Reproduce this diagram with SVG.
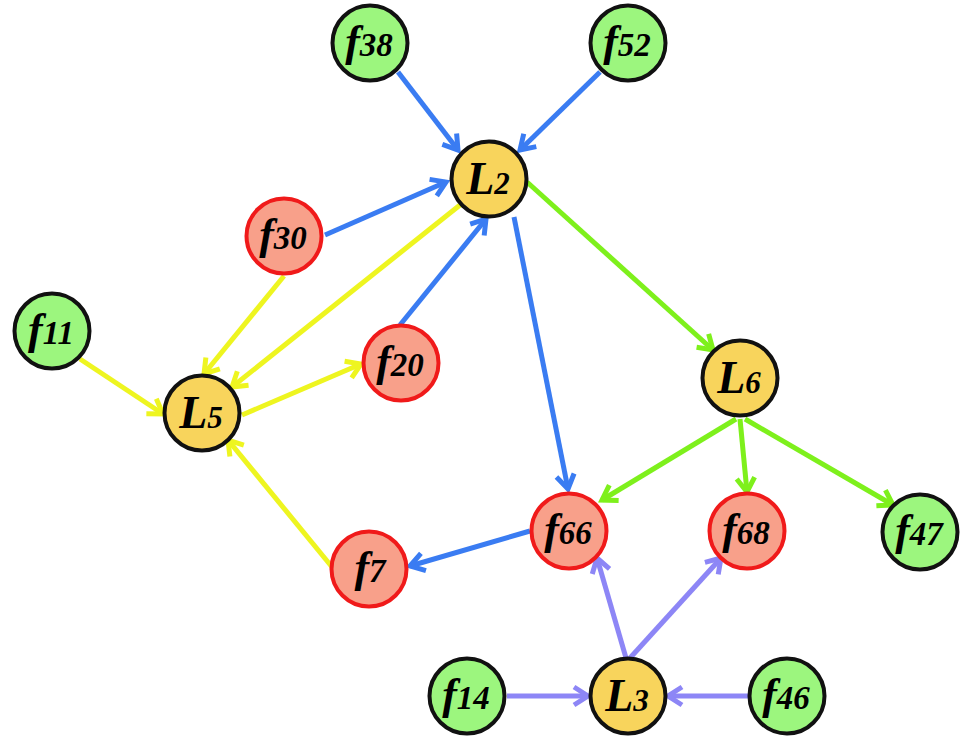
<svg xmlns="http://www.w3.org/2000/svg" width="969" height="741" viewBox="0 0 969 741">
<style>
.g circle{fill:#9cf67e;stroke:#111;stroke-width:4}
.r circle{fill:#f8a08a;stroke:#f01a1a;stroke-width:4}
.y circle{fill:#f8d45c;stroke:#111;stroke-width:4}
text{font-family:"Liberation Serif","Times New Roman",serif;font-style:italic;font-weight:bold;fill:#000;text-anchor:middle}
.fl{font-size:44px}
.fd{font-size:33px}
.ll{font-size:46px}
.ld{font-size:31px}
.e line{stroke-width:5;fill:none}
.b{stroke:#3a7cf2}
.yl{stroke:#eef520}
.gr{stroke:#7ef01c}
.p{stroke:#8d86f6}
</style>
<defs>
<marker id="mb" markerUnits="userSpaceOnUse" markerWidth="30" markerHeight="30" orient="auto" overflow="visible"><path d="M-14,-9 L0,0 L-14,9" fill="none" stroke="#3a7cf2" stroke-width="5"/></marker>
<marker id="my" markerUnits="userSpaceOnUse" markerWidth="30" markerHeight="30" orient="auto" overflow="visible"><path d="M-14,-9 L0,0 L-14,9" fill="none" stroke="#eef520" stroke-width="5"/></marker>
<marker id="mg" markerUnits="userSpaceOnUse" markerWidth="30" markerHeight="30" orient="auto" overflow="visible"><path d="M-14,-9 L0,0 L-14,9" fill="none" stroke="#7ef01c" stroke-width="5"/></marker>
<marker id="mp" markerUnits="userSpaceOnUse" markerWidth="30" markerHeight="30" orient="auto" overflow="visible"><path d="M-14,-9 L0,0 L-14,9" fill="none" stroke="#8d86f6" stroke-width="5"/></marker>
</defs>
<rect width="969" height="741" fill="#fff"/>
<g id="edges" class="e">
<line class="b" x1="398" y1="72" x2="458" y2="150" marker-end="url(#mb)"/>
<line class="b" x1="600" y1="72" x2="520" y2="150" marker-end="url(#mb)"/>
<line class="b" x1="325" y1="235" x2="446" y2="182" marker-end="url(#mb)"/>
<line class="b" x1="400" y1="325" x2="486" y2="219" marker-end="url(#mb)"/>
<line class="b" x1="514" y1="217" x2="568" y2="489" marker-end="url(#mb)"/>
<line class="b" x1="530" y1="531" x2="410" y2="566" marker-end="url(#mb)"/>
<line class="yl" x1="284" y1="276" x2="204" y2="374" marker-end="url(#my)"/>
<line class="yl" x1="460" y1="205" x2="232" y2="387" marker-end="url(#my)"/>
<line class="yl" x1="80" y1="359" x2="163" y2="414" marker-end="url(#my)"/>
<line class="yl" x1="242" y1="415" x2="361" y2="364" marker-end="url(#my)"/>
<line class="yl" x1="332" y1="567" x2="228" y2="440" marker-end="url(#my)"/>
<line class="gr" x1="527" y1="182" x2="713" y2="350" marker-end="url(#mg)"/>
<line class="gr" x1="736" y1="419" x2="602" y2="500" marker-end="url(#mg)"/>
<line class="gr" x1="740" y1="419" x2="747" y2="492" marker-end="url(#mg)"/>
<line class="gr" x1="745" y1="419" x2="893" y2="505" marker-end="url(#mg)"/>
<line class="p" x1="507" y1="696" x2="588" y2="696" marker-end="url(#mp)"/>
<line class="p" x1="748" y1="696" x2="668" y2="696" marker-end="url(#mp)"/>
<line class="p" x1="626" y1="658" x2="597" y2="558" marker-end="url(#mp)"/>
<line class="p" x1="630" y1="658" x2="721" y2="558" marker-end="url(#mp)"/>
</g>
<g id="f38" class="g"><circle cx="370" cy="43" r="37.5"/><text x="369" y="56"><tspan class="fl">f</tspan><tspan class="fd">38</tspan></text></g>
<g id="f52" class="g"><circle cx="628" cy="43" r="37.5"/><text x="627" y="56"><tspan class="fl">f</tspan><tspan class="fd">52</tspan></text></g>
<g id="L2" class="y"><circle cx="489" cy="179" r="37.5"/><text x="488" y="194"><tspan class="ll">L</tspan><tspan class="ld">2</tspan></text></g>
<g id="f30" class="r"><circle cx="284" cy="236" r="37.5"/><text x="283" y="249"><tspan class="fl">f</tspan><tspan class="fd">30</tspan></text></g>
<g id="f11" class="g"><circle cx="52" cy="331" r="37.5"/><text x="51" y="344"><tspan class="fl">f</tspan><tspan class="fd">11</tspan></text></g>
<g id="f20" class="r"><circle cx="401" cy="363" r="37.5"/><text x="400" y="376"><tspan class="fl">f</tspan><tspan class="fd">20</tspan></text></g>
<g id="L5" class="y"><circle cx="202" cy="413" r="37.5"/><text x="201" y="428"><tspan class="ll">L</tspan><tspan class="ld">5</tspan></text></g>
<g id="L6" class="y"><circle cx="740" cy="378" r="37.5"/><text x="739" y="393"><tspan class="ll">L</tspan><tspan class="ld">6</tspan></text></g>
<g id="f66" class="r"><circle cx="569" cy="531" r="37.5"/><text x="568" y="544"><tspan class="fl">f</tspan><tspan class="fd">66</tspan></text></g>
<g id="f68" class="r"><circle cx="747" cy="531" r="37.5"/><text x="746" y="544"><tspan class="fl">f</tspan><tspan class="fd">68</tspan></text></g>
<g id="f47" class="g"><circle cx="920" cy="532" r="37.5"/><text x="919" y="545"><tspan class="fl">f</tspan><tspan class="fd">47</tspan></text></g>
<g id="f7" class="r"><circle cx="369" cy="569" r="37.5"/><text x="370" y="582"><tspan class="fl">f</tspan><tspan class="fd">7</tspan></text></g>
<g id="f14" class="g"><circle cx="467" cy="696" r="37.5"/><text x="466" y="709"><tspan class="fl">f</tspan><tspan class="fd">14</tspan></text></g>
<g id="L3" class="y"><circle cx="628" cy="696" r="37.5"/><text x="627" y="711"><tspan class="ll">L</tspan><tspan class="ld">3</tspan></text></g>
<g id="f46" class="g"><circle cx="787" cy="696" r="37.5"/><text x="786" y="709"><tspan class="fl">f</tspan><tspan class="fd">46</tspan></text></g>
</svg>
